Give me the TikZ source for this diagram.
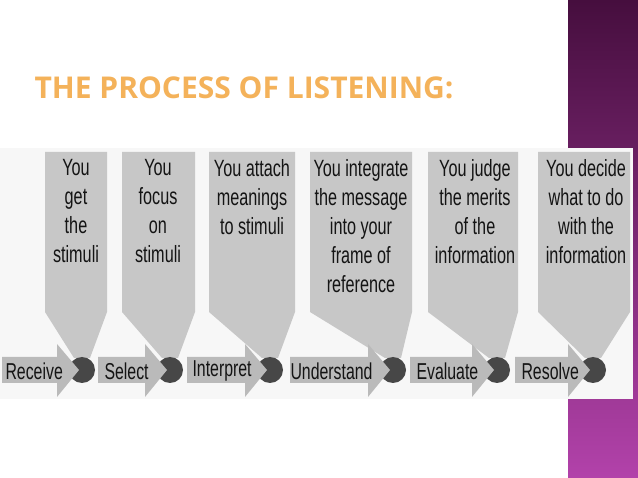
\documentclass[tikz,border=0pt]{standalone}
\usepackage{fontspec}
\setmainfont{Liberation Sans}[FakeStretch=0.69]
\newfontfamily\titlefont{Open Sans}
\begin{document}
\begin{tikzpicture}[x=1pt,y=-1pt,
  colbox/.style={fill=black!22},
  colbody/.style={font=\fontsize{23.5}{29}\selectfont, align=center, anchor=north, text=black!92},
  arrowbox/.style={fill=black!27},
  pac/.style={fill=black!72},
  lab/.style={font=\fontsize{23}{24}\selectfont, anchor=west, text=black!92}]
\useasboundingbox (0,0) rectangle (638,478);
\fill[white] (0,0) rectangle (638,478);
\shade[top color={rgb,255:red,70;green,14;blue,62}, bottom color={rgb,255:red,178;green,66;blue,170}] (568,0) rectangle (638,478);
\node[font=\titlefont\bfseries\fontsize{30}{31}\selectfont, text={rgb,255:red,244;green,178;blue,90}, anchor=west] (title) at (31,88) {THE PROCESS OF LISTENING:};
\fill[black!3] (0,148) rectangle (633,399);
\foreach \L/\R/\c/\n in {45/107/82/a,122/195/170/b,209/295/270/c,310/412/393/d,428/518/497/e,538/630/593/f}{
  \fill[colbox] (\L,152) -- (\R,152) -- (\R,312) -- (\c+8,358) -- (\c-8,358) -- (\L,312) -- cycle;
  \fill[pac] (\c,370) circle (13);
}
\foreach \s/\c in {2/82,98/170,187/270,290/393,410/497,515/593}{
  \fill[arrowbox] (\s,357) -- (\c-25,357) -- (\c-25,344) -- (\c-3,370) -- (\c-25,397) -- (\c-25,383) -- (\s,383) -- cycle;
}
\node[colbody] (t1) at (76,156) {You\\get\\the\\stimuli};
\node[colbody] (t2) at (158,156) {You\\focus\\on\\stimuli};
\node[colbody] (t3) at (252,156) {You attach\\meanings\\to stimuli};
\node[colbody] (t4) at (361,156) {You integrate\\the message\\into your\\frame of\\reference};
\node[colbody] (t5) at (475,156) {You judge\\the merits\\of the\\information};
\node[colbody] (t6) at (586,156) {You decide\\what to do\\with the\\information};
\node[lab] (r1) at (2,371) {Receive};
\node[lab] (r2) at (101,371) {Select};
\node[lab] (r3) at (189,371) {Interpret};
\node[lab] (r4) at (287,371) {Understand};
\node[lab] (r5) at (413,371) {Evaluate};
\node[lab] (r6) at (518,371) {Resolve};
\end{tikzpicture}
\end{document}
